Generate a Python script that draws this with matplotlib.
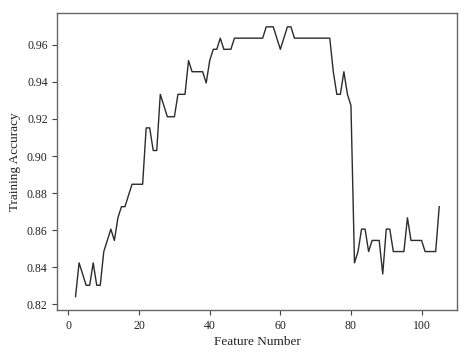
import matplotlib
matplotlib.use("Agg")
import matplotlib.pyplot as plt

feature_number = list(range(2, 106))
training_accuracy = [
    0.8242, 0.8424, 0.8364, 0.8303, 0.8303, 0.8424, 0.8303, 0.8303,   # 2-9
    0.8485, 0.8545, 0.8606, 0.8545, 0.8667, 0.8727, 0.8727, 0.8788,   # 10-17
    0.8848, 0.8848, 0.8848, 0.8848, 0.9152, 0.9152, 0.9030, 0.9030,   # 18-25
    0.9333, 0.9273, 0.9212, 0.9212, 0.9212, 0.9333, 0.9333, 0.9333,   # 26-33
    0.9515, 0.9455, 0.9455, 0.9455, 0.9455, 0.9394, 0.9515, 0.9576,   # 34-41
    0.9576, 0.9636, 0.9576, 0.9576, 0.9576,                           # 42-46
    0.9636, 0.9636, 0.9636, 0.9636, 0.9636, 0.9636, 0.9636, 0.9636, 0.9636,  # 47-55
    0.9697, 0.9697, 0.9697, 0.9636, 0.9576, 0.9636, 0.9697, 0.9697,   # 56-63
    0.9636, 0.9636, 0.9636, 0.9636, 0.9636, 0.9636, 0.9636, 0.9636,
    0.9636, 0.9636, 0.9636,                                           # 64-74
    0.9455, 0.9333, 0.9333, 0.9455, 0.9333, 0.9273,                   # 75-80
    0.8424, 0.8485, 0.8606, 0.8606, 0.8485, 0.8545, 0.8545, 0.8545,   # 81-88
    0.8364, 0.8606, 0.8606, 0.8485, 0.8485, 0.8485, 0.8485, 0.8667,   # 89-96
    0.8545, 0.8545, 0.8545, 0.8545, 0.8485, 0.8485, 0.8485, 0.8485,   # 97-104
    0.8727,                                                           # 105
]
x_ticks = [0, 20, 40, 60, 80, 100]
y_ticks = [0.82, 0.84, 0.86, 0.88, 0.90, 0.92, 0.94, 0.96]

plt.rcParams['font.family'] = ['Liberation Serif', 'DejaVu Serif']

fig = plt.figure(figsize=(4.74, 3.61), dpi=100)
ax = fig.add_axes([0.121, 0.141, 0.844, 0.822])
ax.plot(feature_number, training_accuracy, color='#2b2b2b', linewidth=1.0)

ax.set_xticks(x_ticks)
ax.set_yticks(y_ticks)
ax.set_yticklabels([f"{v:.2f}" for v in y_ticks])
ax.tick_params(direction='out', length=3.5, width=0.8, colors='#444444',
               labelsize=8.5, labelcolor='#222222')
for s in ax.spines.values():
    s.set_color('#666666')
    s.set_linewidth(1.0)

ax.set_xlabel('Feature Number', fontsize=9.5, color='#222222', labelpad=3)
ax.set_ylabel('Training Accuracy', fontsize=9.5, color='#222222', labelpad=4)

fig.savefig('out.png', dpi=100, facecolor='white')
